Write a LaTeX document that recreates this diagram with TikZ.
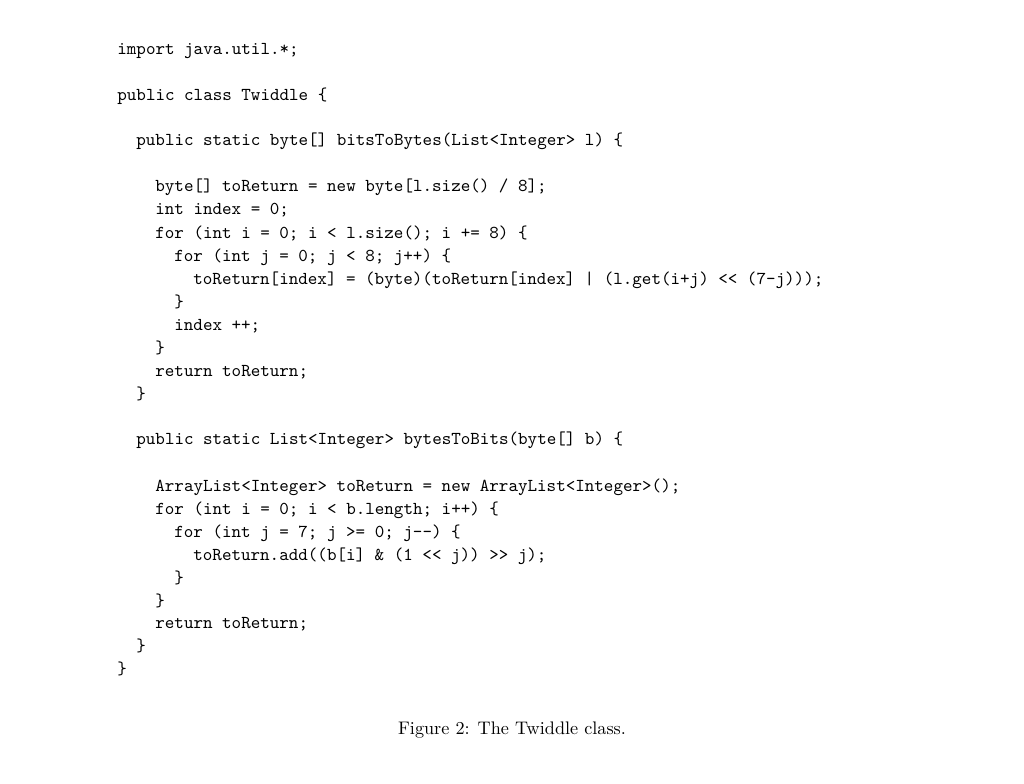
\documentclass[tikz,border=0pt]{standalone}
\usepackage{fontspec}
\begin{document}
\begin{tikzpicture}[x=0.55pt,y=-0.55pt,
  code/.style={anchor=base west,inner sep=0pt,font=\ttfamily\fontsize{10}{12}\selectfont}]
\useasboundingbox (0,0) rectangle (1024,784);
\node[code] (l1) at (117,55) {import java.util.*;};
\node[code] (l2) at (117,101) {public class Twiddle \{};
\node[code] (l3) at (136,146) {public static byte[] bitsToBytes(List{<}Integer{>} l) \{};
\node[code] (l4) at (155,192) {byte[] toReturn = new byte[l.size() / 8];};
\node[code] (l5) at (155,215) {int index = 0;};
\node[code] (l6) at (155,238) {for (int i = 0; i {<} l.size(); i += 8) \{};
\node[code] (l7) at (174,261) {for (int j = 0; j {<} 8; j{+}{+}) \{};
\node[code] (l8) at (193,284) {toReturn[index] = (byte)(toReturn[index] | (l.get(i+j) {<}{<} (7{-}j)));};
\node[code] (l9) at (174,307) {\}};
\node[code] (l10) at (174,330) {index {+}{+};};
\node[code] (l11) at (155,353) {\}};
\node[code] (l12) at (155,376) {return toReturn;};
\node[code] (l13) at (136,399) {\}};
\node[code] (l14) at (136,444) {public static List{<}Integer{>} bytesToBits(byte[] b) \{};
\node[code] (l15) at (155,491) {ArrayList{<}Integer{>} toReturn = new ArrayList{<}Integer{>}();};
\node[code] (l16) at (155,514) {for (int i = 0; i {<} b.length; i{+}{+}) \{};
\node[code] (l17) at (174,537) {for (int j = 7; j {>}= 0; j{-}{-}) \{};
\node[code] (l18) at (193,560) {toReturn.add((b[i] \& (1 {<}{<} j)) {>}{>} j);};
\node[code] (l19) at (174,583) {\}};
\node[code] (l20) at (155,606) {\}};
\node[code] (l21) at (155,628) {return toReturn;};
\node[code] (l22) at (136,651) {\}};
\node[code] (l23) at (117,674) {\}};
\node[anchor=base,inner sep=0pt,font=\fontsize{10}{12}\selectfont] (cap) at (512,734) {Figure 2: The Twiddle class.};
\end{tikzpicture}
\end{document}
